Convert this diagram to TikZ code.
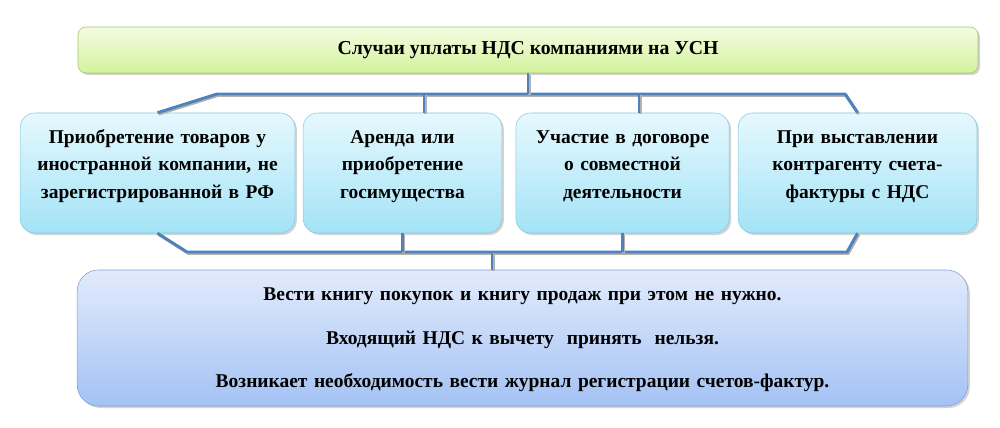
\documentclass[tikz,border=0pt]{standalone}
\usepackage{fontspec}
\setmainfont{Liberation Serif}
\usetikzlibrary{calc, shadows}
\definecolor{BusBlue}{HTML}{4F81BD}
\definecolor{TitleTop}{HTML}{F4FCE2}
\definecolor{TitleBottom}{HTML}{D3F39C}
\definecolor{TitleLine}{HTML}{A6C46A}
\definecolor{CaseTop}{HTML}{E6F8FE}
\definecolor{CaseBottom}{HTML}{A3E3F6}
\definecolor{CaseLine}{HTML}{84C8E2}
\definecolor{RulesTop}{HTML}{E2EBFC}
\definecolor{RulesBottom}{HTML}{A3C2F4}
\definecolor{RulesLine}{HTML}{7C9ED4}
\tikzset{TitleBox/.style={
    rounded corners=6pt,
    minimum width=675pt,
    minimum height=34.5pt,
    draw=TitleLine,
    top color=TitleTop,
    bottom color=TitleBottom,
    drop shadow={shadow xshift=1.5pt, shadow yshift=-1.5pt, opacity=0.35},
    font=\bfseries\fontsize{14.8}{17.5}\selectfont
    }
}
\tikzset{CaseBox/.style={
    rounded corners=11pt,
    inner xsep=4pt,
    inner ysep=0pt,
    text width=#1,
    text height=23pt,
    text depth=67pt,
    align=center,
    draw=CaseLine,
    top color=CaseTop,
    bottom color=CaseBottom,
    drop shadow={shadow xshift=1.5pt, shadow yshift=-1.5pt, opacity=0.35},
    font=\bfseries\fontsize{14.6}{20.5}\selectfont
    }
}
\tikzset{RulesBox/.style={
    rounded corners=16pt,
    inner xsep=4pt,
    inner ysep=0pt,
    text width=660pt,
    text height=23pt,
    text depth=79pt,
    align=center,
    draw=RulesLine,
    top color=RulesTop,
    bottom color=RulesBottom,
    drop shadow={shadow xshift=1.5pt, shadow yshift=-1.5pt, opacity=0.35},
    font=\bfseries\fontsize{14.6}{17.5}\selectfont
    }
}
\tikzset{Bus/.style={
    draw=BusBlue,
    line width=2.2pt,
    preaction={draw=black!30, line width=2.2pt, transform canvas={xshift=1pt, yshift=-1pt}}
    }
}

\begin{document}
\begin{tikzpicture}[x=0.75pt, y=-0.75pt]
    \useasboundingbox (0,0) rectangle (1000,428);

    \node (title) [TitleBox] at (528,50) {Случаи уплаты НДС компаниями на УСН};

    \node (buy) [CaseBox=198pt] at (157.5,173) {Приобретение товаров у\\иностранной компании, не\\зарегистрированной в РФ};
    \node (rent) [CaseBox=141pt] at (402.5,173) {Аренда или\\приобретение\\госимущества};
    \node (joint) [CaseBox=152pt] at (622.5,173) {Участие в договоре\\о совместной\\деятельности};
    \node (invoice) [CaseBox=171pt] at (857.5,173) {При выставлении\\контрагенту счета-\\фактуры с НДС};

    \node (rules) [RulesBox] at (522.5,338) {Вести книгу покупок и книгу продаж при этом не нужно.\\[15pt]
        Входящий НДС к вычету\ \ принять\ \ нельзя.\\[15pt]
        Возникает необходимость вести журнал регистрации счетов-фактур.};

    % upper bus
    \coordinate (t1) at (217,94);
    \coordinate (t2) at (845,94);
    \coordinate (t3) at (424,94);
    \coordinate (t4) at (639,94);
    \draw[Bus] (buy.north) -- (t1) -- (t2) -- (invoice.north);
    \draw[Bus] (title.south) -- (title.south |- t1);
    \draw[Bus] (t3) -- (t3 |- rent.north);
    \draw[Bus] (t4) -- (t4 |- joint.north);

    % lower bus
    \coordinate (b1) at (187,252);
    \coordinate (b2) at (847,252);
    \coordinate (b3) at (492,252);
    \draw[Bus] (buy.south) -- (b1) -- (b2) -- (invoice.south);
    \draw[Bus] (rent.south) -- (rent.south |- b1);
    \draw[Bus] (joint.south) -- (joint.south |- b1);
    \draw[Bus] (b3) -- (b3 |- rules.north);

\end{tikzpicture}
\end{document}
